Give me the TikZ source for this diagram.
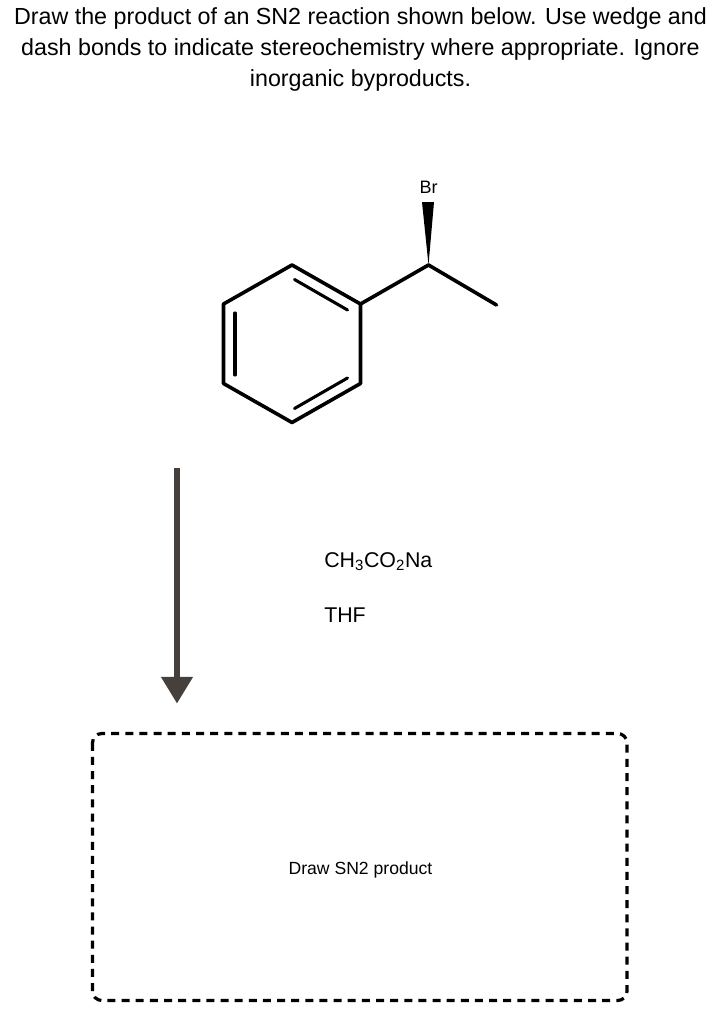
\documentclass[tikz,border=0pt]{standalone}
\usepackage{fontspec}
\setmainfont{Liberation Sans}
\usepackage{xcolor}
\usetikzlibrary{positioning,arrows.meta}
\definecolor{arrowgray}{HTML}{46403C}
\tikzstyle{bond}=[%
      draw=black, line width=2.7pt, line cap=round, line join=round
]
\tikzstyle{inner bond}=[%
      draw=black, line width=2.3pt, line cap=round
]
\tikzstyle{reagent}=[%
      anchor=west, inner sep=0pt, font=\fontsize{16}{20}\selectfont
]
\begin{document}
\begin{tikzpicture}[x=0.75pt, y=-0.75pt]
    \useasboundingbox (0,0) rectangle (727,1024);

    \node[align=center, inner sep=0pt, font=\fontsize{17.45}{23.25}\selectfont] (question) at (360.5,49.5)
      {Draw the product of an SN2 reaction shown below. Use wedge and\\
       dash bonds to indicate stereochemistry where appropriate. Ignore\\
       inorganic byproducts.};

    % ring
    \coordinate (r1) at (292,265);
    \coordinate (r2) at (360.5,304);
    \coordinate (r3) at (360.5,383.5);
    \coordinate (r4) at (292,422.5);
    \coordinate (r5) at (223.5,383.5);
    \coordinate (r6) at (223.5,304);
    % side chain
    \coordinate (chiral) at (428.5,265);
    \coordinate (methyl) at (496.5,305);
    \coordinate (wedgel) at (422,202);
    \coordinate (wedger) at (434,202);
    \node[inner sep=0pt, font=\fontsize{13.5}{15}\selectfont] (br) at (428.5,187) {Br};

    \draw[bond] (r1) -- (r2) -- (r3) -- (r4) -- (r5) -- (r6) -- cycle;
    \path[bond] (r2) edge (chiral)
                (chiral) edge (methyl);
    \fill[black] (chiral) -- (wedgel) -- (wedger) -- cycle;

    % double bonds
    \coordinate (d1a) at (294.5,279.5);
    \coordinate (d1b) at (347.5,310);
    \coordinate (d2a) at (235,313);
    \coordinate (d2b) at (235,375);
    \coordinate (d3a) at (294.5,408.5);
    \coordinate (d3b) at (347.5,378);
    \path[inner bond] (d1a) edge (d1b)
                      (d2a) edge (d2b)
                      (d3a) edge (d3b);

    % reaction arrow
    \coordinate (start) at (177,468);
    \coordinate (end) at (177,703.5);
    \draw[draw=arrowgray, line width=4.2pt,
      -{Triangle[length=20pt,width=23pt,fill=arrowgray]}] (start) -- (end);

    \node[reagent] (reagent1) at (324,561.5) {CH\textsubscript{3}CO\textsubscript{2}Na};
    \node[reagent] (reagent2) [below = 33.2pt of reagent1.south west, anchor=west] {THF};

    % answer box
    \draw[black, line width=2.4pt, dash pattern=on 6pt off 4.6pt, rounded corners=7pt]
      (92.5,733.5) rectangle (627,1000.5);
    \node[inner sep=0pt, font=\fontsize{13.2}{16}\selectfont] (answer) at (360.5,870) {Draw SN2 product};
\end{tikzpicture}
\end{document}
